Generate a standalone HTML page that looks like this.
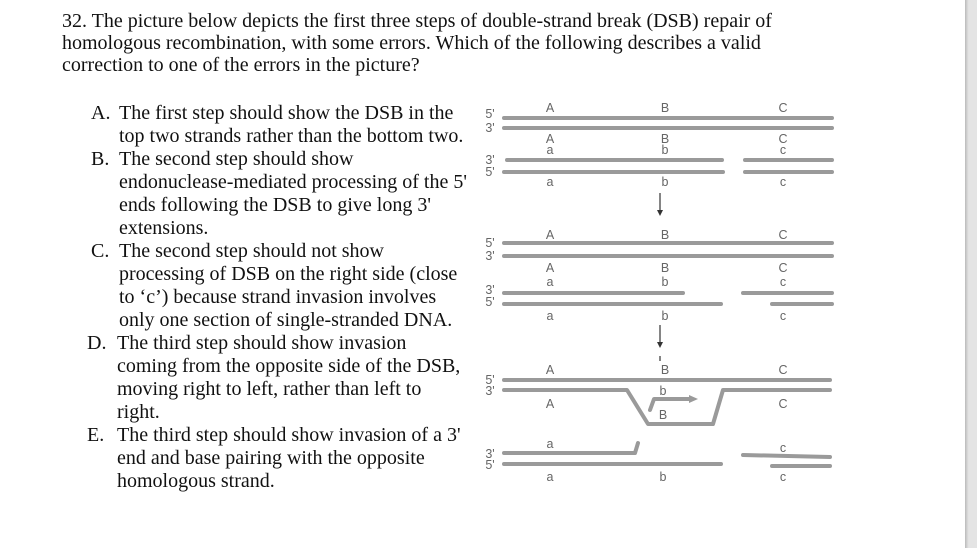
<!DOCTYPE html>
<html><head><meta charset="utf-8"><style>
html,body{margin:0;padding:0;background:#fff;}
body{width:977px;height:548px;position:relative;overflow:hidden;font-family:"Liberation Serif",serif;color:#111;}
.t{position:absolute;font-size:20px;white-space:nowrap;line-height:1;}
.bar{position:absolute;left:965px;top:0;width:12px;height:548px;background:linear-gradient(to right,#bbb,#e4e4e4 30%,#e4e4e4);}
svg{position:absolute;left:0;top:0;}
</style></head><body>
<div class="t" style="left:62px;top:11px">32. The picture below depicts the first three steps of double-strand break (DSB) repair of</div>
<div class="t" style="left:62px;top:33px">homologous recombination, with some errors. Which of the following describes a valid</div>
<div class="t" style="left:62px;top:55px">correction to one of the errors in the picture?</div>

<div class="t" style="left:91px;top:103px">A.</div><div class="t" style="left:119px;top:103px">The first step should show the DSB in the</div>
<div class="t" style="left:119px;top:126px">top two strands rather than the bottom two.</div>
<div class="t" style="left:91px;top:149px">B.</div><div class="t" style="left:119px;top:149px">The second step should show</div>
<div class="t" style="left:119px;top:172px">endonuclease-mediated processing of the 5'</div>
<div class="t" style="left:119px;top:195px">ends following the DSB to give long 3'</div>
<div class="t" style="left:119px;top:218px">extensions.</div>
<div class="t" style="left:91px;top:241px">C.</div><div class="t" style="left:119px;top:241px">The second step should not show</div>
<div class="t" style="left:119px;top:264px">processing of DSB on the right side (close</div>
<div class="t" style="left:119px;top:287px">to ‘c’) because strand invasion involves</div>
<div class="t" style="left:119px;top:310px">only one section of single-stranded DNA.</div>
<div class="t" style="left:87px;top:333px">D.</div><div class="t" style="left:117px;top:333px">The third step should show invasion</div>
<div class="t" style="left:117px;top:356px">coming from the opposite side of the DSB,</div>
<div class="t" style="left:117px;top:379px">moving right to left, rather than left to</div>
<div class="t" style="left:117px;top:402px">right.</div>
<div class="t" style="left:87px;top:425px">E.</div><div class="t" style="left:117px;top:425px">The third step should show invasion of a 3'</div>
<div class="t" style="left:117px;top:448px">end and base pairing with the opposite</div>
<div class="t" style="left:117px;top:471px">homologous strand.</div>

<div class="bar"></div>

<svg width="977" height="548" viewBox="0 0 977 548">
<g stroke="#9a9a9a" stroke-width="4" stroke-linecap="round" fill="none" stroke-linejoin="round">
<line x1="504" y1="118" x2="832" y2="118"/>
<line x1="504" y1="128" x2="832" y2="128"/>
<line x1="507" y1="160" x2="722" y2="160"/>
<line x1="745" y1="160" x2="832" y2="160"/>
<line x1="504" y1="172" x2="723" y2="172"/>
<line x1="745" y1="172" x2="832" y2="172"/>

<line x1="504" y1="243" x2="832" y2="243"/>
<line x1="504" y1="256" x2="832" y2="256"/>
<line x1="504" y1="293" x2="683" y2="293"/>
<line x1="743" y1="293" x2="832" y2="293"/>
<line x1="504" y1="304" x2="721" y2="304"/>
<line x1="772" y1="304" x2="832" y2="304"/>

<line x1="504" y1="380" x2="830" y2="380"/>
<polyline points="504,390 627,390 648,424 713,424 723,390 830,390"/>
<polyline points="650,410 654,399 690,399"/>
<polyline points="504,453 635,453 638,443"/>
<line x1="743" y1="455" x2="830" y2="457"/>
<line x1="504" y1="464" x2="721" y2="464"/>
<line x1="772" y1="466" x2="830" y2="466"/>
</g>
<polygon points="689,395 698,399 689,403" fill="#9a9a9a"/>
<g stroke="#333" stroke-width="1.2"><line x1="660" y1="193" x2="660" y2="212"/><line x1="660" y1="325" x2="660" y2="344"/><line x1="660" y1="356" x2="660" y2="361"/></g>
<polygon points="657,210 663,210 660,216" fill="#333"/>
<polygon points="657,342 663,342 660,348" fill="#333"/>
<g font-family="Liberation Sans, sans-serif" font-size="12.5" fill="#666" text-anchor="middle">
<text x="490" y="118">5'</text><text x="490" y="132">3'</text><text x="490" y="164">3'</text><text x="490" y="176">5'</text>
<text x="550" y="112">A</text><text x="665" y="112">B</text><text x="783" y="112">C</text>
<text x="550" y="143">A</text><text x="665" y="143">B</text><text x="783" y="143">C</text>
<text x="550" y="154">a</text><text x="665" y="154">b</text><text x="783" y="154">c</text>
<text x="550" y="186">a</text><text x="665" y="186">b</text><text x="783" y="186">c</text>

<text x="490" y="247">5'</text><text x="490" y="260">3'</text><text x="490" y="294">3'</text><text x="490" y="306">5'</text>
<text x="550" y="239">A</text><text x="665" y="239">B</text><text x="783" y="239">C</text>
<text x="550" y="272">A</text><text x="665" y="272">B</text><text x="783" y="272">C</text>
<text x="550" y="286">a</text><text x="665" y="286">b</text><text x="783" y="286">c</text>
<text x="550" y="320">a</text><text x="665" y="320">b</text><text x="783" y="320">c</text>

<text x="490" y="384">5'</text><text x="490" y="395">3'</text><text x="490" y="458">3'</text><text x="490" y="469">5'</text>
<text x="550" y="374">A</text><text x="665" y="374">B</text><text x="783" y="374">C</text>
<text x="550" y="408">A</text><text x="663" y="395">b</text><text x="663" y="419">B</text><text x="783" y="408">C</text>
<text x="550" y="448">a</text><text x="783" y="452">c</text>
<text x="550" y="481">a</text><text x="663" y="481">b</text><text x="783" y="481">c</text>
</g>
</svg>
</body></html>
